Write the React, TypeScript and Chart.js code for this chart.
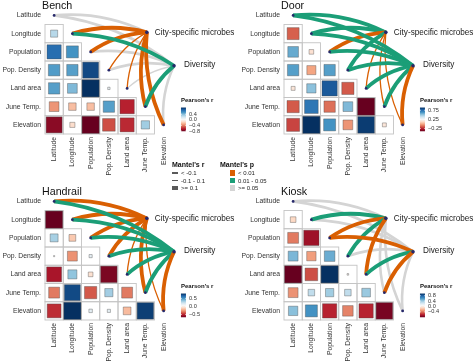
import React, { useEffect, useRef } from 'react';
import { Chart, registerables } from 'chart.js';

Chart.register(...registerables);

// ---------------- data ----------------
const ENV = ['Latitude', 'Longitude', 'Population', 'Pop. Density', 'Land area', 'June Temp.', 'Elevation'];
const TARGETS = ['City-specific microbes', 'Diversity'];

// Pearson's r, lower triangle: row k lists Env[k+1] against Env[0..k]
const benchR = [
  [0.27],
  [0.68, 0.54],
  [0.51, 0.5, 0.8],
  [0.5, 0.41, 0.88, 0.08],
  [-0.35, -0.23, -0.23, 0.5, -0.63],
  [-0.74, -0.12, -0.82, -0.52, -0.61, 0.33],
];
const doorR = [
  [-0.14],
  [0.58, 0.15],
  [0.61, -0.01, 0.61],
  [0.17, 0.52, 0.8, -0.15],
  [-0.15, 0.72, -0.11, 0.54, -0.4],
  [-0.19, 0.9, 0.64, -0.04, 0.87, 0.17],
];
const handrailR = [
  [-0.67],
  [0.31, -0.13],
  [0.08, -0.27, 0.13],
  [-0.54, 0.36, -0.05, -0.63],
  [-0.32, 0.73, -0.39, 0.32, -0.32],
  [-0.48, 0.8, 0.14, 0.13, -0.17, 0.76],
];
const kioskR = [
  [-0.1],
  [-0.38, -0.67],
  [0.48, -0.29, 0.52],
  [-0.8, -0.49, 0.96, 0.05],
  [-0.32, 0.3, 0.39, 0.3, 0.41],
  [0.45, 0.61, -0.6, -0.36, -0.6, -0.76],
];

// colour-bar tick labels
const benchTicks = [0.4, 0.0, -0.4, -0.8];
const doorTicks = [0.75, 0.25, -0.25];
const handrailTicks = [0.5, 0.0, -0.5];
const kioskTicks = [0.8, 0.4, 0.0, -0.4];

// Mantel test (per env variable, order of ENV)
const benchCityP = [0.3, 0.001, 0.001, 0.001, 0.001, 0.001, 0.001];
const benchCityR = [-0.15, 0.25, 0.25, 0.05, 0.05, 0.25, 0.25];
const benchDivP = [0.3, 0.03, 0.3, 0.3, 0.3, 0.03, 0.3];
const benchDivR = [-0.15, 0.25, -0.15, -0.15, 0.05, 0.25, -0.15];

const doorCityP = [0.03, 0.03, 0.001, 0.03, 0.001, 0.001, 0.001];
const doorCityR = [0.25, 0.25, 0.25, 0.25, 0.05, 0.05, 0.05];
const doorDivP = [0.03, 0.03, 0.03, 0.03, 0.03, 0.03, 0.001];
const doorDivR = [0.25, 0.25, 0.25, 0.25, 0.25, 0.25, 0.25];

const handrailCityP = [0.001, 0.001, 0.001, 0.001, 0.001, 0.001, 0.001];
const handrailCityR = [0.25, 0.25, 0.25, 0.25, 0.05, 0.25, 0.05];
const handrailDivP = [0.03, 0.03, 0.03, 0.03, 0.03, 0.03, 0.001];
const handrailDivR = [0.25, 0.25, 0.25, 0.25, 0.25, 0.25, 0.25];

const kioskCityP = [0.3, 0.03, 0.001, 0.03, 0.001, 0.3, 0.3];
const kioskCityR = [-0.15, 0.25, 0.25, 0.25, 0.25, -0.15, -0.15];
const kioskDivP = [0.3, 0.3, 0.001, 0.3, 0.03, 0.001, 0.3];
const kioskDivR = [-0.15, -0.15, 0.25, -0.15, 0.25, 0.25, -0.15];

const R_LABELS = ['< -0.1', '-0.1 - 0.1', '>= 0.1'];
const P_LABELS = ['< 0.01', '0.01 - 0.05', '>= 0.05'];
const R_BREAKS = [-0.1, 0.1];
const P_BREAKS = [0.01, 0.05];

// node layout (in cell units)
const CITY_NODE = { x: 5.08, y: 0.93 };
const DIV_NODE = { x: 6.57, y: 2.76 };

// ---------------- styles ----------------
const FONT = '"Liberation Sans", Arial, Helvetica, sans-serif';
const RDBU = ['#67001F', '#B2182B', '#D6604D', '#F4A582', '#FDDBC7', '#F7F7F7', '#D1E5F0', '#92C5DE', '#4393C3', '#2166AC', '#053061'];
const P_COLORS = ['#D95F02', '#1B9E77', '#D4D4D4'];
const R_WIDTHS = [2.6, 1.3, 3.8];
const CELL = 18.25;
const GRID_BOTTOM = 134;
const CURV = 0.14;
const NODE_COLOR = '#26286A';

const PANELS = [
  { title: 'Bench', r: benchR, ticks: benchTicks, cityP: benchCityP, cityR: benchCityR, divP: benchDivP, divR: benchDivR, left: 0, top: 0, w: 237, h: 186, yw: 45 },
  { title: 'Door', r: doorR, ticks: doorTicks, cityP: doorCityP, cityR: doorCityR, divP: doorDivP, divR: doorDivR, left: 237, top: 0, w: 237, h: 186, yw: 47 },
  { title: 'Handrail', r: handrailR, ticks: handrailTicks, cityP: handrailCityP, cityR: handrailCityR, divP: handrailDivP, divR: handrailDivR, left: 0, top: 186, w: 237, h: 178, yw: 45 },
  { title: 'Kiosk', r: kioskR, ticks: kioskTicks, cityP: kioskCityP, cityR: kioskCityR, divP: kioskDivP, divR: kioskDivR, left: 237, top: 186, w: 237, h: 178, yw: 47 },
];

function hexToRgb(h: string) {
  const n = parseInt(h.slice(1), 16);
  return [(n >> 16) & 255, (n >> 8) & 255, n & 255];
}
function rdbu(pos: number) {
  const p = Math.max(0, Math.min(1, pos)) * 10;
  const i = Math.min(9, Math.floor(p));
  const f = p - i;
  const a = hexToRgb(RDBU[i]);
  const b = hexToRgb(RDBU[i + 1]);
  const c = a.map((v, k) => Math.round(v + (b[k] - v) * f));
  return `rgb(${c[0]},${c[1]},${c[2]})`;
}
function catOf(v: number, breaks: number[]) {
  let c = 0;
  for (const b of breaks) if (v >= b) c++;
  return c;
}
function fmt(t: number, digits: number) {
  return t.toFixed(digits).replace('-', '\u2212');
}

function makeConfig(p: any): any {
  const flat: number[] = p.r.flat();
  const lo = Math.min(...flat);
  const hi = Math.max(...flat);
  const mid = (lo + hi) / 2;
  const half = (hi - lo) / 2;
  const cells: any[] = [];
  p.r.forEach((row: number[], ri: number) =>
    row.forEach((v, ci) => cells.push({ x: ci, y: ri + 1, v }))
  );
  const nodes: any[] = ENV.map((_, i) => ({ x: i, y: i }));
  nodes.push({ x: CITY_NODE.x, y: CITY_NODE.y }, { x: DIV_NODE.x, y: DIV_NODE.y });

  const xMin = -0.5;
  const xMax = -0.5 + (p.w - p.yw) / CELL;
  const yMax = 6.5;
  const yMin = 6.5 - GRID_BOTTOM / CELL;
  const digits = Math.max(1, ...p.ticks.map((t: number) => (String(t).split('.')[1] || '').length));

  const cellPx = (chart: any) => chart.scales.x.getPixelForValue(1) - chart.scales.x.getPixelForValue(0);

  const underlay = {
    id: 'underlay',
    beforeDatasetsDraw(chart: any) {
      const ctx = chart.ctx;
      const xs = chart.scales.x;
      const ys = chart.scales.y;
      const cw = cellPx(chart);
      const ch = ys.getPixelForValue(1) - ys.getPixelForValue(0);
      ctx.save();
      // grid boxes
      ctx.strokeStyle = '#C4C4C4';
      ctx.lineWidth = 0.9;
      for (let r = 1; r < ENV.length; r++) {
        for (let c = 0; c < r; c++) {
          ctx.strokeRect(xs.getPixelForValue(c - 0.5), ys.getPixelForValue(r - 0.5), cw, ch);
        }
      }
      // mantel curves
      const curves: any[] = [];
      [[CITY_NODE, p.cityP, p.cityR, 0], [DIV_NODE, p.divP, p.divR, 1]].forEach(([node, ps, rs, ti]: any) => {
        ENV.forEach((_, i) => {
          curves.push({ i, node, pc: catOf(ps[i], P_BREAKS), rc: catOf(rs[i], R_BREAKS), ti });
        });
      });
      curves.sort((a, b) => (b.pc === 2 ? 1 : 0) - (a.pc === 2 ? 1 : 0) || a.ti - b.ti);
      ctx.lineCap = 'butt';
      for (const cv of curves) {
        const x0 = xs.getPixelForValue(cv.i);
        const y0 = ys.getPixelForValue(cv.i);
        const x1 = xs.getPixelForValue(cv.node.x);
        const y1 = ys.getPixelForValue(cv.node.y);
        const dx = x1 - x0;
        const dy = y1 - y0;
        const cx = (x0 + x1) / 2 + dy * CURV;
        const cy = (y0 + y1) / 2 - dx * CURV;
        ctx.strokeStyle = P_COLORS[cv.pc];
        ctx.lineWidth = R_WIDTHS[cv.rc];
        ctx.beginPath();
        ctx.moveTo(x0, y0);
        ctx.quadraticCurveTo(cx, cy, x1, y1);
        ctx.stroke();
      }
      ctx.restore();
    },
    afterDraw(chart: any) {
      const ctx = chart.ctx;
      const xs = chart.scales.x;
      const ys = chart.scales.y;
      ctx.save();
      // title
      ctx.fillStyle = '#111';
      ctx.font = `10.7px ${FONT}`;
      ctx.textBaseline = 'alphabetic';
      ctx.textAlign = 'left';
      ctx.fillText(p.title, chart.chartArea.left - 3, 9);
      // node labels
      ctx.font = `8.2px ${FONT}`;
      ctx.textBaseline = 'middle';
      ctx.fillStyle = '#1A1A1A';
      ctx.fillText(TARGETS[0], xs.getPixelForValue(CITY_NODE.x) + 8, ys.getPixelForValue(CITY_NODE.y));
      ctx.fillText(TARGETS[1], xs.getPixelForValue(DIV_NODE.x) + 10, ys.getPixelForValue(DIV_NODE.y) - 1);
      // colour bar
      const bx = xs.getPixelForValue(6.95);
      const bTop = ys.getPixelForValue(5.05);
      const bBot = ys.getPixelForValue(6.35);
      const bw = 5;
      ctx.font = `bold 6px ${FONT}`;
      ctx.fillStyle = '#111';
      ctx.textBaseline = 'middle';
      ctx.fillText("Pearson's r", bx, ys.getPixelForValue(4.65));
      const grad = ctx.createLinearGradient(0, bBot, 0, bTop);
      RDBU.forEach((c, i) => grad.addColorStop(i / 10, c));
      ctx.fillStyle = grad;
      ctx.fillRect(bx, bTop, bw, bBot - bTop);
      ctx.font = `5.6px ${FONT}`;
      ctx.fillStyle = '#333';
      ctx.strokeStyle = '#FFFFFF';
      ctx.lineWidth = 0.6;
      for (const t of p.ticks) {
        const ty = bTop + ((hi - t) / (hi - lo)) * (bBot - bTop);
        ctx.beginPath();
        ctx.moveTo(bx, ty);
        ctx.lineTo(bx + 1, ty);
        ctx.moveTo(bx + bw - 1, ty);
        ctx.lineTo(bx + bw, ty);
        ctx.stroke();
        ctx.fillText(fmt(t, digits), bx + bw + 3, ty);
      }
      ctx.restore();
    },
  };

  return {
    type: 'scatter',
    data: {
      datasets: [
        {
          label: 'nodes',
          data: nodes,
          pointStyle: 'circle',
          pointRadius: (c: any) => (c.dataIndex < ENV.length ? 1.4 : 1.8),
          backgroundColor: NODE_COLOR,
          borderColor: NODE_COLOR,
          borderWidth: 0,
          clip: false,
        },
        {
          label: 'cells',
          data: cells,
          pointStyle: 'rect',
          pointRadius: (c: any) => {
            if (!c.raw) return 0;
            const t = (c.raw.v - mid) / half;
            const side = cellPx(c.chart) * 0.94 * Math.pow(Math.min(1, Math.abs(t)), 0.7);
            return side / Math.SQRT2;
          },
          backgroundColor: (c: any) => (c.raw ? rdbu((c.raw.v - lo) / (hi - lo)) : '#fff'),
          borderColor: 'rgba(70,70,70,0.55)',
          borderWidth: 0.7,
          clip: false,
        },
      ],
    },
    options: {
      responsive: false,
      animation: false,
      events: [],
      layout: { padding: 0, autoPadding: false },
      plugins: { legend: { display: false }, tooltip: { enabled: false }, title: { display: false } },
      scales: {
        x: {
          type: 'linear',
          position: 'bottom',
          min: xMin,
          max: xMax,
          grid: { display: false, drawTicks: false },
          border: { display: false },
          afterBuildTicks: (s: any) => {
            s.ticks = ENV.map((_, i) => ({ value: i }));
          },
          afterFit: (s: any) => {
            s.height = p.h - GRID_BOTTOM;
            s.paddingLeft = 0;
            s.paddingRight = 0;
            s.paddingTop = 0;
            s.paddingBottom = 0;
          },
          ticks: {
            autoSkip: false,
            minRotation: 90,
            maxRotation: 90,
            padding: 3,
            color: '#333',
            font: { size: 6.8, family: FONT },
            callback: (v: any) => ENV[Math.round(v)] ?? '',
          },
        },
        y: {
          type: 'linear',
          position: 'left',
          reverse: true,
          min: yMin,
          max: yMax,
          grid: { display: false, drawTicks: false },
          border: { display: false },
          afterBuildTicks: (s: any) => {
            s.ticks = ENV.map((_, i) => ({ value: i }));
          },
          afterFit: (s: any) => {
            s.width = p.yw;
            s.paddingLeft = 0;
            s.paddingRight = 0;
            s.paddingTop = 0;
            s.paddingBottom = 0;
          },
          ticks: {
            autoSkip: false,
            padding: 4,
            color: '#333',
            font: { size: 6.8, family: FONT },
            callback: (v: any) => ENV[Math.round(v)] ?? '',
          },
        },
      },
    },
    plugins: [underlay],
  };
}

function Panel({ p }: { p: any }) {
  const ref = useRef<HTMLCanvasElement>(null);
  useEffect(() => {
    if (!ref.current) return;
    const chart = new Chart(ref.current, makeConfig(p));
    return () => chart.destroy();
  }, [p]);
  return (
    <canvas
      ref={ref}
      width={p.w}
      height={p.h}
      style={{ position: 'absolute', left: p.left, top: p.top, width: p.w, height: p.h }}
    />
  );
}

function MantelLegend() {
  const base: React.CSSProperties = {
    position: 'absolute',
    fontFamily: FONT,
    whiteSpace: 'nowrap',
    lineHeight: 1,
    color: '#222',
  };
  const rowY = (i: number) => 173 + i * 7.5;
  return (
    <>
      <div style={{ ...base, left: 172, top: 160.5, fontSize: 7, fontWeight: 'bold', color: '#111' }}>Mantel's r</div>
      {R_LABELS.map((l, i) => (
        <React.Fragment key={l}>
          <div
            style={{
              position: 'absolute',
              left: 172,
              top: rowY(i) - R_WIDTHS[i] / 2,
              width: 5.5,
              height: R_WIDTHS[i],
              background: '#5A5A5A',
            }}
          />
          <div style={{ ...base, left: 181, top: rowY(i) - 3, fontSize: 6 }}>{l}</div>
        </React.Fragment>
      ))}
      <div style={{ ...base, left: 220, top: 160.5, fontSize: 7, fontWeight: 'bold', color: '#111' }}>Mantel's p</div>
      {P_LABELS.map((l, i) => (
        <React.Fragment key={l}>
          <div
            style={{
              position: 'absolute',
              left: 229.5,
              top: rowY(i) - 2.7,
              width: 5.4,
              height: 5.4,
              background: P_COLORS[i],
            }}
          />
          <div style={{ ...base, left: 238, top: rowY(i) - 3, fontSize: 6 }}>{l}</div>
        </React.Fragment>
      ))}
    </>
  );
}

export default function App() {
  return (
    <div style={{ position: 'fixed', left: 0, top: 0, width: 474, height: 364, background: '#fff', overflow: 'hidden' }}>
      {PANELS.map((p) => (
        <Panel key={p.title} p={p} />
      ))}
      <MantelLegend />
    </div>
  );
}
